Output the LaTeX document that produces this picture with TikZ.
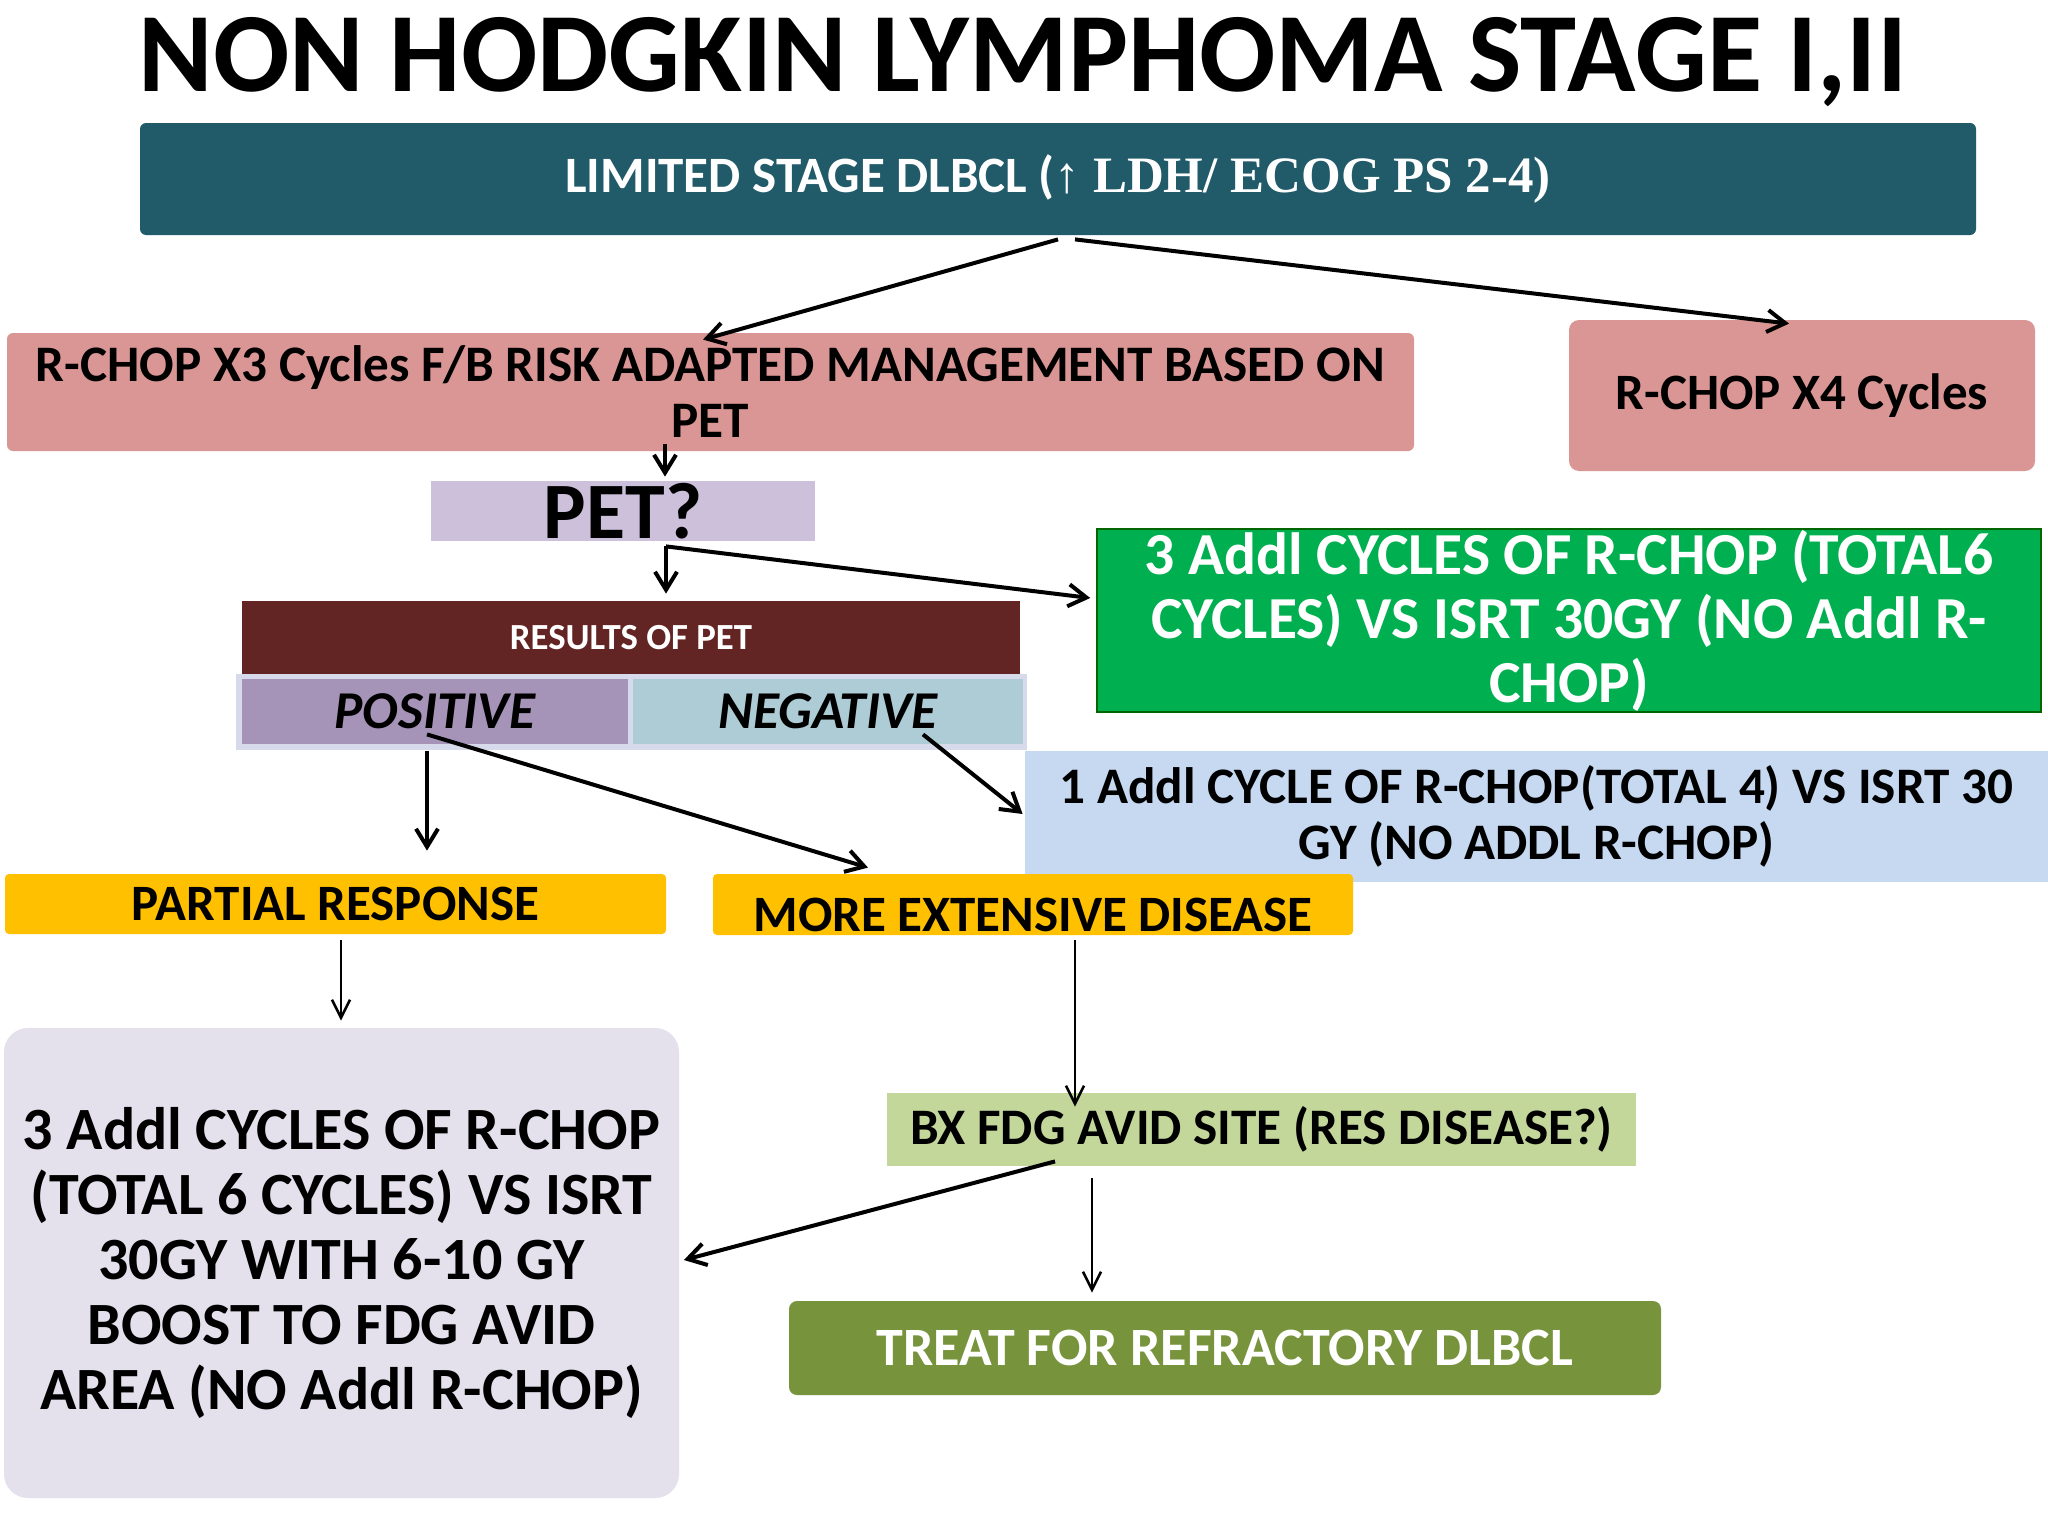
\documentclass[tikz,border=0pt]{standalone}
\usepackage{fontspec}
\setmainfont{Carlito}
\newfontfamily\tnr{Liberation Serif}
\usetikzlibrary{arrows.meta,calc}
\definecolor{cTeal}{HTML}{215A68}
\definecolor{cPink}{HTML}{DA9694}
\definecolor{cPet}{HTML}{CCC0DA}
\definecolor{cMaroon}{HTML}{632523}
\definecolor{cPos}{HTML}{A694B8}
\definecolor{cNeg}{HTML}{AECCD6}
\definecolor{cFrame}{HTML}{D6DAEA}
\definecolor{cGreen}{HTML}{00B050}
\definecolor{cLBlue}{HTML}{C6D9F1}
\definecolor{cGold}{HTML}{FFC000}
\definecolor{cGray}{HTML}{E4E0EC}
\definecolor{cBx}{HTML}{C4D79B}
\definecolor{cTreat}{HTML}{77933C}
\tikzset{
  box/.style={rectangle, inner sep=0pt, align=center, font=\bfseries},
  arr/.style={-{Straight Barb[length=9pt,width=11pt]}, line width=2pt, black},
  tarr/.style={-{Straight Barb[length=9pt,width=9pt]}, line width=1.3pt, black},
}
\begin{document}
\begin{tikzpicture}[x=0.5pt,y=-0.5pt]
\useasboundingbox[fill=white] (0,0) rectangle (2048,1536);

\node[font=\fontsize{56.5}{62}\selectfont\bfseries] (title) at (1023,62) {NON HODGKIN LYMPHOMA STAGE I,II};

\node[box, fill=cTeal, rounded corners=3pt, minimum width=918pt, minimum height=56pt, text=white,
  font=\fontsize{25.5}{29}\selectfont\bfseries] (box1) at (1058,179)
  {LIMITED STAGE DLBCL ({\tnr\bfseries ↑ LDH/ ECOG PS 2-4)}};

\node[box, fill=cPink, rounded corners=3pt, minimum width=703.5pt, minimum height=59pt,
  font=\fontsize{25.6}{28}\selectfont\bfseries] (box2) at (710.5,392)
  {R-CHOP X3 Cycles F/B RISK ADAPTED MANAGEMENT BASED ON\\PET};

\node[box, fill=cPink, rounded corners=5pt, minimum width=233pt, minimum height=75.5pt,
  font=\fontsize{25.5}{28}\selectfont\bfseries] (box3) at (1802,395.5) {R-CHOP X4 Cycles};

\node[box, fill=cPet, minimum width=192pt, minimum height=30pt,
  font=\fontsize{40}{44}\selectfont\bfseries] (pet) at (623,511) {PET?};

\node[box, fill=cMaroon, minimum width=389pt, minimum height=36.5pt, text=white,
  font=\fontsize{18.4}{21}\selectfont\bfseries] (res) at (631,637.5) {RESULTS OF PET};

\node[box, fill=cFrame, minimum width=395.5pt, minimum height=38pt] (frame) at (631.5,712) {};
\node[box, fill=cPos, minimum width=193pt, minimum height=32.5pt,
  font=\fontsize{26.6}{29}\selectfont\bfseries\itshape] (pos) at (435,711.5) {POSITIVE};
\node[box, fill=cNeg, minimum width=195pt, minimum height=32.5pt,
  font=\fontsize{26.6}{29}\selectfont\bfseries\itshape] (neg) at (828,711.5) {NEGATIVE};

\node[box, fill=cGreen, draw=green!40!black, line width=0.8pt, minimum width=472pt, minimum height=91.5pt, text=white,
  font=\fontsize{29.8}{32}\selectfont\bfseries] (green) at (1569,620.5)
  {3 Addl CYCLES OF R-CHOP (TOTAL6\\CYCLES) VS ISRT 30GY (NO Addl R-\\CHOP)};

\node[box, fill=cLBlue, minimum width=511.5pt, minimum height=65.5pt,
  font=\fontsize{25.6}{28}\selectfont\bfseries] (lblue) at (1536.5,816.5)
  {1 Addl CYCLE OF R-CHOP(TOTAL 4) VS ISRT 30\\GY (NO ADDL R-CHOP)};

\node[box, fill=cGold, rounded corners=2pt, minimum width=330.5pt, minimum height=30pt,
  font=\fontsize{25.5}{28}\selectfont\bfseries] (partial) at (335.5,904) {PARTIAL RESPONSE};

\node[box, fill=cGold, rounded corners=2pt, minimum width=320pt, minimum height=30.5pt,
  font=\fontsize{25.5}{28}\selectfont\bfseries] (more) at (1033,904.5)
  {\raisebox{-13.4pt}[0pt][0pt]{MORE EXTENSIVE DISEASE}};

\node[box, fill=cGray, rounded corners=12pt, minimum width=337.5pt, minimum height=235pt,
  font=\fontsize{30}{32.5}\selectfont\bfseries] (gray) at (341.5,1263)
  {3 Addl CYCLES OF R-CHOP\\(TOTAL 6 CYCLES) VS ISRT\\30GY WITH 6-10 GY\\BOOST TO FDG AVID\\AREA (NO Addl R-CHOP)};

\node[box, fill=cBx, minimum width=374.5pt, minimum height=36.5pt,
  font=\fontsize{25.6}{28}\selectfont\bfseries] (bx) at (1261.5,1129.5) {BX FDG AVID SITE (RES DISEASE?)};

\node[box, fill=cTreat, rounded corners=4pt, minimum width=436pt, minimum height=47pt, text=white,
  font=\fontsize{27}{30}\selectfont\bfseries] (treat) at (1225,1348) {TREAT FOR REFRACTORY DLBCL};

% connectors
\coordinate (pj) at ($(pet.south)+(43,5)$);
\draw[arr] ($(box1.south)+(0,4)$) -- ($(box2.north)+(-7.5,7)$);
\draw[arr] ($(box1.south)+(17,4)$) -- ($(box3.north)+(-13,4)$);
\draw[arr] ($(box2.south)+(-45.5,-7)$) -- ($(pet.north)+(42,-4)$);
\draw[arr] (pj) -- ($(res.north)+(35,-7)$);
\draw[arr] (pj) -- ($(green.west)+(-6,-22.5)$);
\draw[arr] ($(pos.south)+(-8,7)$) -- ($(partial.north)+(91.5,-23)$);
\draw[arr] ($(pos.south)+(-8,-10)$) -- ($(more.north)+(-165,-6)$);
\draw[arr] ($(neg.south)+(95,-10)$) -- ($(lblue.west)+(-2,-2.5)$);
\draw[tarr] ($(partial.south)+(5.5,6)$) -- ($(gray.north)+(-0.5,-7)$);
\draw[tarr] ($(more.south)+(42,5)$) -- ($(bx.north)+(-186.5,14)$);
\draw[arr] ($(bx.south)+(-206.5,-5)$) -- ($(gray.east)+(4.5,-3)$);
\draw[tarr] ($(bx.south)+(-169.5,12)$) -- ($(treat.north)+(-133,-8)$);
\end{tikzpicture}
\end{document}
